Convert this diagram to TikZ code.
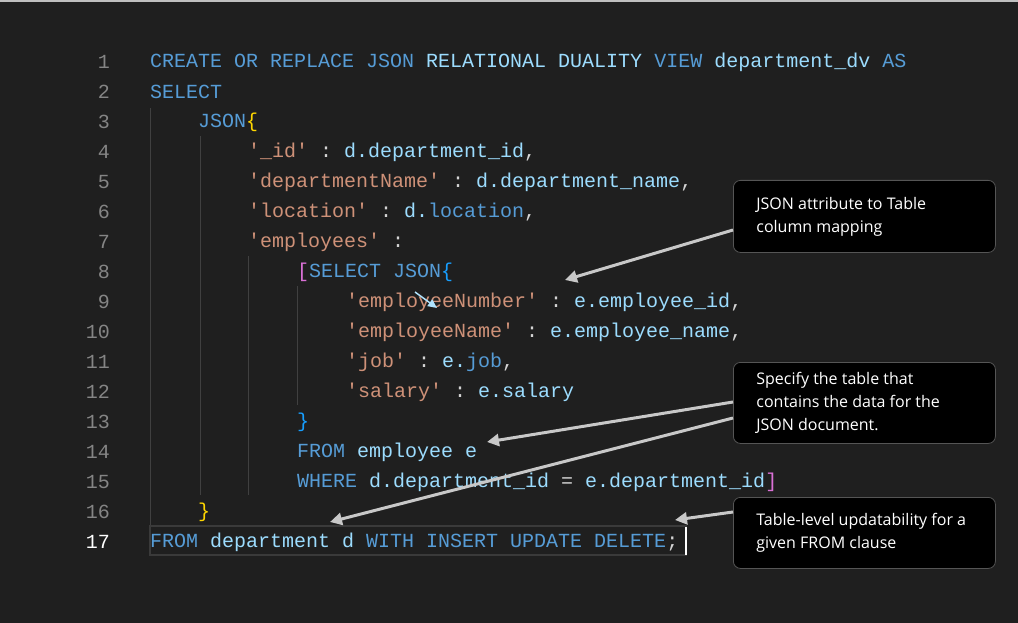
\documentclass[tikz,border=0pt]{standalone}
\usepackage{fontspec}
\setmonofont{Liberation Mono}
\newfontfamily\notefont{Open Sans}
\usetikzlibrary{arrows.meta,positioning}
\definecolor{bgdark}{HTML}{1F1F1F}
\definecolor{kwblue}{HTML}{569CD6}
\definecolor{idblue}{HTML}{9CDCFE}
\definecolor{strorange}{HTML}{CE9178}
\definecolor{plaintxt}{HTML}{D4D4D4}
\definecolor{lnumgray}{HTML}{858585}
\definecolor{guidegray}{HTML}{404040}
\definecolor{hlgray}{HTML}{3A3A3A}
\definecolor{boxborder}{HTML}{555555}
\definecolor{arrowgray}{HTML}{C8C8C8}
\definecolor{braceyellow}{HTML}{FFD700}
\definecolor{bracepink}{HTML}{DA70D6}
\definecolor{braceblue}{HTML}{179FFF}
\newcommand{\kw}[1]{\textcolor{kwblue}{#1}}
\newcommand{\idf}[1]{\textcolor{idblue}{#1}}
\newcommand{\cstr}[1]{\textcolor{strorange}{#1}}
\newcommand{\plain}[1]{\textcolor{plaintxt}{#1}}
\tikzset{
  codeline/.style={anchor=west, inner sep=0pt, font=\ttfamily\fontsize{20}{24}\selectfont, text=plaintxt},
  lnum/.style={anchor=east, inner sep=0pt, font=\ttfamily\fontsize{20}{24}\selectfont, text=lnumgray},
  guide/.style={draw=guidegray, line width=1pt},
  notebox/.style={draw=boxborder, fill=black, rounded corners=7pt, line width=0.8pt, minimum width=262pt,
    text width=216pt, align=flush left, anchor=north west, inner xsep=6pt, inner ysep=8pt, text=white,
    font=\notefont\fontsize{16}{23}\selectfont},
  callarrow/.style={draw=arrowgray, line width=3pt, -{Triangle[length=12pt,width=12pt]}}
}
\begin{document}
\begin{tikzpicture}[x=1pt,y=-1pt]
  \useasboundingbox[fill=bgdark] (0,0) rectangle (1018,623);
  \fill[black!25] (0,0) rectangle (1018,2);

  % line numbers
  \foreach \n in {1,...,16}
    \node[lnum] (n\n) at (110,{62+30*(\n-1)}) {\n};
  \node[lnum, text=white] (n17) at (110,542) {17};

  % current line highlight and cursor
  \draw[hlgray, line width=1.2pt] (150,526) rectangle (686,555);
  \draw[white, line width=1.2pt] (686,527) -- (686,555);

  % indent guides
  \draw[guide] (150,108) -- (150,525);
  \draw[guide] (200,136) -- (200,495);
  \draw[guide] (248,256) -- (248,495);
  \draw[guide] (297,286) -- (297,405);

  % code lines
  \node[codeline] (l1) at (150,62) {\kw{CREATE OR REPLACE JSON} \idf{RELATIONAL DUALITY} \kw{VIEW} \idf{department\_dv} \kw{AS}};
  \node[codeline] (l2) at (150,92) {\kw{SELECT}};
  \node[codeline] (l3) at (198,122) {\kw{JSON}\textcolor{braceyellow}{\{}};
  \node[codeline] (l4) at (248,152) {\cstr{'\_id'} : \idf{d.department\_id},};
  \node[codeline] (l5) at (248,182) {\cstr{'departmentName'} : \idf{d.department\_name},};
  \node[codeline] (l6) at (248,212) {\cstr{'location'} : \idf{d.}\kw{location},};
  \node[codeline] (l7) at (248,242) {\cstr{'employees'} :};
  \node[codeline] (l8) at (297,272) {\textcolor{bracepink}{[}\kw{SELECT JSON}\textcolor{braceblue}{\{}};
  \node[codeline] (l9) at (346,302) {\cstr{'employeeNumber'} : \idf{e.employee\_id},};
  \node[codeline] (l10) at (346,332) {\cstr{'employeeName'} : \idf{e.employee\_name},};
  \node[codeline] (l11) at (346,362) {\cstr{'job'} : \idf{e.}\kw{job},};
  \node[codeline] (l12) at (346,392) {\cstr{'salary'} : \idf{e.salary}};
  \node[codeline] (l13) at (297,422) {\textcolor{braceblue}{\}}};
  \node[codeline] (l14) at (297,452) {\kw{FROM} \idf{employee e}};
  \node[codeline] (l15) at (297,482) {\kw{WHERE} \idf{d.department\_id} = \idf{e.department\_id}\textcolor{bracepink}{]}};
  \node[codeline] (l16) at (198,512) {\textcolor{braceyellow}{\}}};
  \node[codeline] (l17) at (150,542) {\kw{FROM} \idf{department d} \kw{WITH INSERT UPDATE DELETE};};

  % callouts
  \node[notebox, minimum height=72pt] (jsonbox) at (733,180) {JSON attribute to Table column mapping};
  \node[notebox, minimum height=81pt] (tablebox) at (733,362) {Specify the table that contains the data for the JSON document.};
  \node[notebox, minimum height=71pt] (updbox) at (733,497) {Table-level updatability for a given FROM clause};

  \coordinate (mapend) at (565,280);
  \coordinate (fromend) at (487,442);
  \coordinate (deptend) at (330,522);
  \coordinate (updend) at (675,520);
  \coordinate (ptrtail) at (415,292);
  \coordinate (ptrhead) at (437,308);

  % arrows
  \draw[callarrow] (jsonbox.west |- 0,230) -- (mapend);
  \draw[callarrow] (tablebox.west |- 0,402) -- (fromend);
  \draw[callarrow] (tablebox.west |- 0,418) -- (deptend);
  \draw[callarrow] (updbox.west |- 0,512) -- (updend);
  \draw[idblue!80, line width=1.5pt, -{Triangle[length=9pt,width=8pt]}] (ptrtail) -- (ptrhead);
\end{tikzpicture}
\end{document}
